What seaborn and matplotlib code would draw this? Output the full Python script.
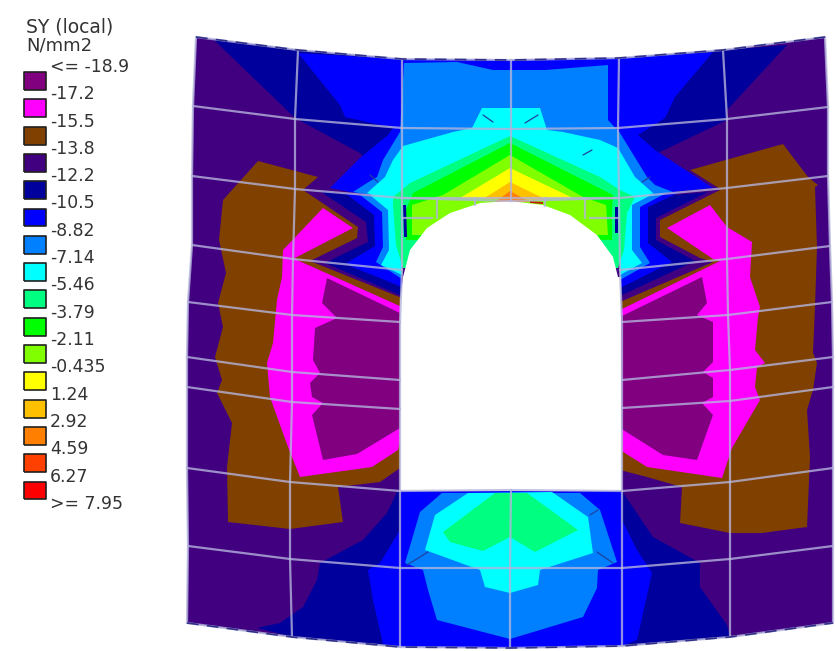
# plot.py
# SY (local) stress contour on a tunnel lining mesh, bands

import numpy as np
import pandas as pd
import matplotlib
matplotlib.use("Agg")
import matplotlib.pyplot as plt
import seaborn as sns

# === Legend ===
title_lines = ["SY (local)", "N/mm2"]
level_labels = ["<= -18.9", "-17.2", "-15.5", "-13.8", "-12.2", "-10.5", "-8.82", "-7.14", "-5.46",
                "-3.79", "-2.11", "-0.435", "1.24", "2.92", "4.59", "6.27", ">= 7.95"]
band_names = ["b00", "b01", "b02", "b03", "b04", "b05", "b06", "b07",
              "b08", "b09", "b10", "b11", "b12", "b13", "b14", "b15"]
band_colors = ["#800080", "#FF00FF", "#804000", "#400080", "#00009C", "#0000FF", "#0080FF", "#00FFFF",
               "#00FF80", "#00FF00", "#80FF00", "#FFFF00", "#FFC000", "#FF8000", "#FF4000", "#FF0000"]

# === Mesh nodes (x, y per column, top to bottom) ===
mesh_x = [[196, 193, 192, 192, 188, 187, 187, 187, 188, 187],
          [298, 295, 295, 293, 292, 292, 292, 290, 290, 292],
          [402, 402, 402, 402, 400, 400, 400, 400, 400, 400],
          [511, 511, 511, 511, 511, 511, 511, 511, 510, 510],
          [619, 618, 619, 620, 622, 622, 622, 622, 622, 622],
          [723, 727, 727, 727, 728, 730, 730, 730, 730, 730],
          [825, 828, 828, 830, 832, 833, 833, 833, 833, 833]]
mesh_y = [[37, 106, 176, 245, 302, 357, 387, 468, 546, 623],
          [50, 119, 189, 259, 315, 372, 402, 482, 559, 637],
          [59, 128, 198, 270, 322, 380, 409, 491, 568, 647],
          [60, 129, 201, 270, 322, 380, 409, 490, 568, 648],
          [58, 128, 198, 270, 322, 380, 408, 491, 568, 646],
          [50, 119, 188, 259, 315, 370, 401, 482, 559, 637],
          [37, 107, 176, 246, 302, 357, 387, 468, 546, 623]]
arch_lines = [[(402, 198), (618, 198)], [(437, 198), (437, 218)], [(475, 198), (475, 205)],
              [(545, 198), (545, 206)], [(585, 198), (585, 218)], [(402, 218), (432, 218)],
              [(590, 218), (618, 218)]]
crack_lines = [[(407, 565), (428, 552)], [(597, 552), (613, 563)], [(590, 515), (598, 510)],
               [(483, 115), (493, 122)], [(525, 123), (538, 115)], [(583, 155), (592, 150)],
               [(370, 175), (378, 182)], [(642, 182), (650, 177)]]

# === Contour bands, outline points, painted back to front ===
outline = [(196, 37), (298, 50), (402, 59), (511, 60), (619, 58), (723, 50), (825, 37), (828, 107),
           (828, 176), (830, 246), (832, 302), (833, 357), (833, 387), (833, 468), (833, 546), (833, 623),
           (730, 637), (622, 646), (510, 648), (400, 647), (292, 637), (187, 623), (188, 546), (187, 468),
           (187, 387), (187, 357), (188, 302), (192, 245), (192, 176), (193, 106)]
brown_left = [(258, 161), (223, 200), (219, 240), (226, 273), (218, 303), (223, 327), (215, 357), (222, 380),
              (217, 393), (232, 423), (227, 467), (228, 522), (290, 529), (343, 522), (338, 487), (380, 482),
              (400, 468), (402, 298), (310, 261), (357, 238), (358, 227), (303, 190), (318, 177)]
brown_right = [(783, 144), (808, 177), (818, 185), (815, 187), (817, 247), (815, 307), (813, 353), (817, 363),
               (813, 390), (807, 410), (810, 457), (807, 527), (762, 533), (730, 533), (680, 523), (682, 487),
               (647, 477), (620, 470), (620, 302), (713, 262), (700, 258), (660, 237), (660, 220), (720, 190),
               (717, 187), (690, 170)]
magenta_left = [(323, 208), (353, 228), (295, 258), (297, 260), (402, 307), (402, 430), (398, 450), (372, 467),
                (300, 477), (288, 447), (270, 397), (267, 363), (273, 343), (277, 300), (282, 277), (283, 250)]
magenta_right = [(710, 205), (667, 228), (713, 259), (720, 261), (620, 310), (620, 450), (647, 467), (722, 478),
                 (732, 448), (760, 400), (755, 387), (757, 367), (765, 363), (755, 350), (758, 317), (760, 307),
                 (750, 277), (752, 242), (727, 227)]
purple_left = [(327, 278), (402, 314), (400, 428), (357, 454), (323, 460), (312, 415), (323, 403), (312, 397),
               (310, 383), (320, 373), (313, 360), (315, 328), (337, 318), (322, 303)]
purple_right = [(702, 277), (707, 303), (697, 315), (713, 322), (713, 362), (703, 372), (713, 378), (713, 397),
                (702, 403), (713, 415), (697, 460), (663, 455), (620, 428), (620, 317)]
navy_top_left = [(213, 39), (298, 50), (402, 59), (402, 200), (360, 153), (295, 118)]
navy_top_right = [(787, 45), (723, 50), (619, 58), (619, 200), (660, 152), (727, 120), (727, 110)]
navy_low_left = [(397, 492), (387, 513), (363, 540), (320, 563), (317, 580), (303, 607), (280, 623), (257, 628),
                 (292, 637), (400, 647), (400, 491)]
navy_low_right = [(622, 491), (653, 537), (700, 563), (700, 587), (727, 625), (730, 637), (622, 646)]
navy_v_left = [(320, 191), (366, 222), (368, 242), (325, 263), (402, 296), (402, 200)]
navy_v_right = [(708, 192), (656, 218), (656, 240), (695, 261), (620, 296), (620, 200)]
blue_top_left = [(298, 53), (402, 59), (402, 200), (350, 192), (330, 188), (360, 158), (388, 135), (393, 128),
                 (345, 117), (340, 105)]
blue_top_right = [(619, 58), (713, 52), (675, 97), (665, 118), (638, 135), (655, 150), (713, 188), (672, 192),
                  (619, 200)]
blue_v_left = [(345, 193), (374, 215), (375, 246), (345, 264), (402, 287), (402, 200)]
blue_v_right = [(680, 192), (648, 207), (648, 243), (672, 262), (620, 288), (620, 200)]
blue_low = [(400, 530), (380, 563), (368, 570), (373, 600), (383, 644), (400, 647), (510, 648), (622, 646),
            (637, 640), (652, 573), (637, 550), (622, 520), (622, 491), (400, 491)]
blue_top_mid = [(402, 59), (511, 60), (619, 58), (619, 200), (402, 200)]
azure_top = [(404, 63), (457, 62), (493, 70), (545, 70), (608, 65), (608, 120), (620, 133), (647, 177),
             (655, 185), (673, 192), (620, 200), (402, 200), (353, 192), (367, 183), (377, 177), (383, 160),
             (400, 132)]
azure_v_left = [(360, 195), (382, 212), (383, 247), (376, 262), (402, 279), (402, 200)]
azure_v_right = [(668, 192), (640, 207), (640, 247), (650, 263), (620, 280), (620, 200)]
azure_low = [(442, 493), (580, 493), (600, 510), (617, 562), (598, 570), (597, 588), (583, 617), (510, 639),
             (437, 620), (428, 590), (423, 570), (405, 563), (420, 512)]
cyan_top = [(472, 128), (482, 108), (540, 108), (547, 130), (563, 132), (600, 140), (618, 148), (635, 177),
            (653, 193), (620, 205), (402, 205), (367, 193), (385, 177), (393, 160), (403, 146), (453, 132)]
cyan_v_left = [(370, 195), (388, 210), (389, 250), (381, 265), (402, 275), (402, 200)]
cyan_v_right = [(655, 193), (632, 205), (632, 250), (642, 263), (620, 275), (620, 200)]
cyan_low = [(468, 493), (552, 492), (588, 517), (593, 553), (540, 570), (538, 585), (510, 593), (485, 587),
            (480, 570), (425, 550), (435, 515)]
spring_top = [(510, 136), (410, 183), (393, 197), (393, 205), (396, 245), (403, 268), (618, 268), (624, 250),
              (627, 213), (635, 197), (620, 190), (600, 177)]
spring_low = [(495, 493), (527, 493), (578, 530), (535, 552), (510, 537), (483, 551), (450, 542), (443, 532)]
green_top = [(510, 143), (413, 193), (406, 210), (406, 240), (612, 240), (612, 210), (613, 195)]
lime_top = [(510, 155), (443, 195), (412, 205), (412, 235), (608, 235), (606, 205), (583, 197)]
yellow_top = [(510, 168), (460, 198), (573, 198)]
amber_top = [(510, 182), (483, 199), (547, 200)]
orange_top = [(510, 191), (495, 202), (530, 202)]
red_streak = [(530, 201), (543, 202), (543, 204), (530, 203)]
fleck_left = [(403, 205), (406, 205), (407, 237), (404, 237)]
fleck_right = [(615, 207), (618, 207), (618, 233), (615, 233)]
hole = [(400, 491), (622, 491), (621, 277), (618, 277), (613, 257), (597, 235), (570, 215), (543, 205),
        (510, 201), (480, 203), (450, 213), (427, 228), (410, 250), (403, 277), (400, 300)]

paint_order = [(outline, "#400080"),
               (brown_left, "#804000"), (brown_right, "#804000"),
               (magenta_left, "#FF00FF"), (magenta_right, "#FF00FF"),
               (purple_left, "#800080"), (purple_right, "#800080"),
               (navy_top_left, "#00009C"), (navy_top_right, "#00009C"),
               (navy_low_left, "#00009C"), (navy_low_right, "#00009C"),
               (navy_v_left, "#00009C"), (navy_v_right, "#00009C"),
               (blue_top_left, "#0000FF"), (blue_top_right, "#0000FF"), (blue_top_mid, "#0000FF"),
               (blue_v_left, "#0000FF"), (blue_v_right, "#0000FF"), (blue_low, "#0000FF"),
               (azure_top, "#0080FF"), (azure_v_left, "#0080FF"), (azure_v_right, "#0080FF"),
               (azure_low, "#0080FF"),
               (cyan_top, "#00FFFF"), (cyan_v_left, "#00FFFF"), (cyan_v_right, "#00FFFF"),
               (cyan_low, "#00FFFF"),
               (spring_top, "#00FF80"), (spring_low, "#00FF80"),
               (green_top, "#00FF00"), (lime_top, "#80FF00"), (yellow_top, "#FFFF00"),
               (amber_top, "#FFC000"), (orange_top, "#FF8000"), (red_streak, "#C02000"),
               (fleck_left, "#0000A0"), (fleck_right, "#0000A0"),
               (hole, "#FFFFFF")]

sns.set_theme(style="white")
plt.rcParams['font.family'] = ['DejaVu Sans']

fig = plt.figure(figsize=(8.37, 6.51), dpi=100)
ax = fig.add_axes([0, 0, 1, 1])

for pts, col in paint_order:
    xs, ys = zip(*pts)
    ax.fill(xs, ys, color=col, linewidth=0)

# === Mesh lines, one unit per segment, none across the opening ===
rows = []
seg = 0
mx = np.array(mesh_x)
my = np.array(mesh_y)
for c in range(mx.shape[0]):
    for r in range(mx.shape[1]):
        if c < mx.shape[0] - 1 and not (3 <= r <= 6 and c in (2, 3)):
            rows += [(seg, mx[c, r], my[c, r]), (seg, mx[c + 1, r], my[c + 1, r])]
            seg += 1
        if r < mx.shape[1] - 1 and not (c == 3 and 2 <= r <= 6):
            rows += [(seg, mx[c, r], my[c, r]), (seg, mx[c, r + 1], my[c, r + 1])]
            seg += 1
for line in arch_lines:
    rows += [(seg, line[0][0], line[0][1]), (seg, line[1][0], line[1][1])]
    seg += 1
mesh_df = pd.DataFrame(rows, columns=["seg", "x", "y"])
sns.lineplot(data=mesh_df, x="x", y="y", units="seg", estimator=None, sort=False,
             color="#B4B4DC", alpha=0.8, linewidth=1.6, ax=ax, legend=False)

# dark dashes along the top and bottom edges
for r in (0, mx.shape[1] - 1):
    sns.lineplot(x=mx[:, r], y=my[:, r], sort=False, estimator=None, color="#30308A",
                 linewidth=1.2, linestyle=(0, (7, 5)), ax=ax, legend=False)

crack_rows = []
for i, line in enumerate(crack_lines):
    crack_rows += [(i, line[0][0], line[0][1]), (i, line[1][0], line[1][1])]
crack_df = pd.DataFrame(crack_rows, columns=["seg", "x", "y"])
sns.lineplot(data=crack_df, x="x", y="y", units="seg", estimator=None, sort=False,
             color="#2040A0", linewidth=0.9, ax=ax, legend=False)

# === Legend swatches and labels ===
legend_df = pd.DataFrame({"band": band_names, "x": 35.0, "y": 81 + 27.3 * np.arange(len(band_names))})
sns.scatterplot(data=legend_df, x="x", y="y", hue="band", hue_order=band_names,
                palette=dict(zip(band_names, band_colors)), s=250,
                marker=[(-11, -9), (11, -9), (11, 9), (-11, 9), (-11, -9)],
                edgecolor="#202020", linewidth=1.2, ax=ax, legend=False, zorder=5)
for i, lab in enumerate(level_labels):
    ax.text(50, 67 + 27.3 * i, lab, fontsize=12.4, color="#333333", ha="left", va="center")
ax.text(26, 27, title_lines[0], fontsize=13.5, color="#333333", ha="left", va="center")
ax.text(26, 45, title_lines[1], fontsize=13, color="#333333", ha="left", va="center")

ax.set_xlim(0, 837)
ax.set_ylim(651, 0)
ax.axis("off")

fig.savefig("out.png", dpi=100)
